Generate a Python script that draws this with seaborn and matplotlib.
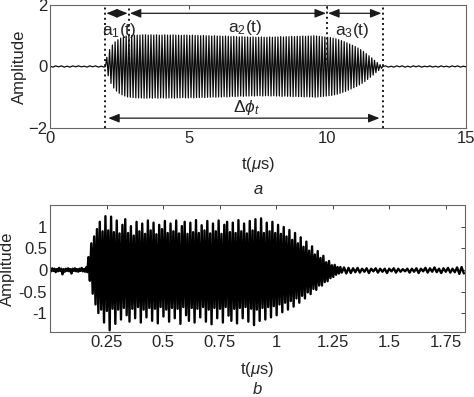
import numpy as np
import pandas as pd
import seaborn as sns
import matplotlib
matplotlib.use("Agg")
import matplotlib.pyplot as plt

# ---- panel a: envelope peaks, one per carrier cycle (2 .. 12 us)
a_peaks = [0.30, 0.55, 0.70, 0.80, 0.87, 0.92, 0.96, 0.99, 1.00, 1.01,
           1.02, 1.02, 1.02, 1.03, 1.03, 1.02, 1.03, 1.02, 1.03, 1.02,
           1.02, 1.03, 1.02, 1.02, 1.03, 1.02, 1.02, 1.01, 1.02, 1.02,
           1.01, 1.02, 1.01, 1.01, 1.00, 1.01, 1.00, 1.00, 0.99, 1.00,
           0.99, 0.99, 0.98, 0.99, 0.98, 0.97, 0.98, 0.97, 0.96, 0.97,
           0.96, 0.96, 0.95, 0.96, 0.95, 0.95, 0.96, 0.95, 0.95, 0.96,
           0.95, 0.96, 0.96, 0.97, 0.96, 0.97, 0.97, 0.98, 0.97, 0.98,
           0.98, 0.99, 0.98, 0.99, 0.99, 1.00, 0.99, 0.98, 0.97, 0.96,
           0.95, 0.94, 0.92, 0.90, 0.87, 0.84, 0.81, 0.77, 0.73, 0.69,
           0.65, 0.60, 0.55, 0.49, 0.42, 0.35, 0.28, 0.20, 0.13, 0.06]
a_pre = [0.01, -0.02, 0.02, -0.01, 0.02, -0.02, 0.01, -0.02, 0.02, -0.01,
         0.02, -0.01, 0.01, -0.02, 0.02, -0.01, 0.02, -0.02, 0.01, -0.02]
a_post = [0.02, -0.02, 0.01, -0.02, 0.02, -0.01, 0.02, -0.02, 0.01, -0.02,
          0.02, -0.01, 0.02, -0.02, 0.01, -0.01, 0.02, -0.02, 0.01, -0.02,
          0.02, -0.01, 0.01, -0.02, 0.02, -0.01, 0.02, -0.02, 0.01, -0.01]
a_burst = (2.0, 12.0)

# ---- panel b: upper / lower peak magnitudes per cycle (0.17 .. 1.29 us)
b_up = [0.30, 0.62, 0.78, 0.95, 1.12, 0.90, 1.25, 0.92, 1.24, 0.88,
        1.15, 0.85, 1.05, 1.18, 0.86, 1.02, 0.80, 1.12, 0.90, 1.08,
        0.84, 1.15, 0.92, 1.10, 0.83, 1.05, 0.95, 1.14, 0.86, 1.08,
        0.90, 1.15, 0.85, 1.02, 1.12, 0.84, 1.10, 0.88, 1.16, 0.86,
        1.04, 0.92, 1.14, 0.85, 1.08, 0.90, 1.15, 0.84, 1.05, 1.12,
        0.88, 1.10, 0.86, 1.16, 0.90, 1.08, 0.85, 1.14, 0.92, 1.18,
        0.88, 1.20, 0.86, 1.10, 0.90, 1.12, 0.86, 1.05, 0.84, 1.00,
        0.78, 0.93, 0.70, 0.86, 0.62, 0.76, 0.54, 0.66, 0.45, 0.55,
        0.36, 0.44, 0.28, 0.33, 0.18, 0.21, 0.11, 0.12, 0.07, 0.07]
b_down = [0.25, 0.55, 0.80, 1.00, 0.92, 1.22, 0.95, 1.40, 0.90, 1.25,
          0.92, 1.15, 0.88, 1.05, 1.20, 0.90, 1.12, 0.86, 1.22, 0.92,
          1.10, 0.88, 1.18, 0.90, 1.24, 0.86, 1.08, 0.92, 1.20, 0.88,
          1.12, 0.90, 1.25, 0.86, 1.05, 1.18, 0.88, 1.22, 0.90, 1.10,
          0.86, 1.20, 0.92, 1.26, 0.88, 1.12, 0.90, 1.22, 0.86, 1.06,
          1.18, 0.90, 1.24, 0.88, 1.12, 0.86, 1.20, 0.90, 1.28, 0.92,
          1.18, 0.88, 1.15, 0.86, 1.10, 0.84, 1.05, 0.80, 0.98, 0.76,
          0.92, 0.72, 0.85, 0.66, 0.76, 0.60, 0.66, 0.52, 0.56, 0.44,
          0.46, 0.36, 0.36, 0.28, 0.26, 0.19, 0.16, 0.11, 0.08, 0.06]
b_pre = [0.02, -0.03, 0.04, -0.02, 0.03, -0.05, 0.02, -0.03, 0.05, -0.02,
         0.03, -0.10, 0.02, -0.04, 0.03, -0.02, 0.04, -0.03, 0.02, -0.08,
         0.03, -0.02, 0.04, -0.03, 0.02, -0.04, 0.03, -0.02, 0.05, -0.03,
         0.02, -0.04, 0.06, -0.05]
b_post = [0.06, -0.08, 0.05, -0.07, 0.04, -0.05, 0.05, -0.06, 0.03, -0.04,
          0.04, -0.07, 0.03, -0.03, 0.04, -0.06, 0.03, -0.04, 0.03, -0.07,
          0.03, -0.03, 0.04, -0.06, 0.03, -0.04, 0.02, -0.03, 0.03, -0.06,
          0.03, -0.04, 0.04, -0.07, 0.03, -0.03, 0.05, -0.06, 0.04, -0.04,
          0.06, -0.05, 0.03, -0.07, 0.04, -0.04, 0.05, -0.06, 0.03, -0.05,
          0.06, -0.09, 0.07, -0.08]
b_burst = (0.17, 1.29)

# annotation positions in panel a (us)
t_marks = [2.0, 2.85, 10.0, 12.0]
seg_labels = ['a$_1$(t)', 'a$_2$(t)', 'a$_3$(t)']
seg_label_x = [2.5, 7.05, 10.9]
seg_label_y = [1.17, 1.28, 1.17]

# ---- build tables
up = np.array(a_peaks)
zig = np.column_stack((up, -up)).ravel()
a_y = np.concatenate([a_pre, [0.0], zig, [0.0], a_post])
a_t = np.concatenate([np.linspace(0, 1.95, len(a_pre)),
                      np.linspace(a_burst[0], a_burst[1], len(zig) + 2),
                      np.linspace(12.1, 15, len(a_post))])
df_a = pd.DataFrame({'t': a_t, 'amp': a_y})

zig_b = np.column_stack((b_up, -np.array(b_down))).ravel()
b_y = np.concatenate([b_pre, zig_b, b_post])
b_t = np.concatenate([np.linspace(0.0, 0.165, len(b_pre)),
                      np.linspace(b_burst[0], b_burst[1], len(zig_b)),
                      np.linspace(1.30, 1.83, len(b_post))])
df_b = pd.DataFrame({'t': b_t, 'amp': b_y})

sns.set_theme(style='white')
plt.rcParams['font.family'] = ['Liberation Sans', 'DejaVu Sans']
plt.rcParams['mathtext.fontset'] = 'custom'
plt.rcParams['mathtext.rm'] = 'Liberation Sans'
plt.rcParams['mathtext.it'] = 'Liberation Sans:italic'

fs = 12
fig = plt.figure(figsize=(4.74, 3.97), dpi=100)
ax1 = fig.add_axes([0.1055, 0.6776, 0.8776, 0.3098])
ax2 = fig.add_axes([0.1055, 0.1637, 0.8755, 0.3199])

sns.lineplot(data=df_a, x='t', y='amp', ax=ax1, color='#0d0d0d', lw=0.9,
             estimator=None, sort=False)
sns.lineplot(data=df_b, x='t', y='amp', ax=ax2, color='black', lw=1.7,
             estimator=None, sort=False)

ax1.set_xlim(0, 15)
ax1.set_ylim(-2, 2)
ax1.set_xticks([0, 5, 10, 15])
ax1.set_yticks([-2, 0, 2])
ax2.set_xlim(0, 1.835)
ax2.set_ylim(-1.44, 1.51)
ax2.set_xticks([0.25, 0.5, 0.75, 1, 1.25, 1.5, 1.75])
ax2.set_xticklabels(['0.25', '0.5', '0.75', '1', '1.25', '1.5', '1.75'])
ax2.set_yticks([-1, -0.5, 0, 0.5, 1])
ax2.set_yticklabels(['-1', '-0.5', '0', '0.5', '1'])

for ax in (ax1, ax2):
    ax.tick_params(direction='in', length=3, width=0.6, top=True, right=True,
                   labelsize=fs, colors='#262626', pad=2)
    for s in ax.spines.values():
        s.set_color('#666666')
        s.set_linewidth(0.8)
    ax.set_xlabel('t($\\mu$s)', fontsize=fs, color='#262626')
    ax.set_ylabel('Amplitude', fontsize=fs, color='#262626')
ax1.xaxis.set_label_coords(0.5, -0.22)
ax1.yaxis.set_label_coords(-0.055, 0.5)
ax2.xaxis.set_label_coords(0.5, -0.22)
ax2.yaxis.set_label_coords(-0.085, 0.5)

# dotted markers
ax1.plot([t_marks[0]] * 2, [-2, 2], ls=':', color='k', lw=1.4)
ax1.plot([t_marks[3]] * 2, [-2, 2], ls=':', color='k', lw=1.4)
ax1.plot([t_marks[1]] * 2, [0.15, 2], ls=':', color='k', lw=1.4)
ax1.plot([t_marks[2]] * 2, [0.2, 2], ls=':', color='k', lw=1.4)

arrow = dict(arrowstyle='<|-|>,head_length=0.55,head_width=0.22', color='k',
             lw=0.9, shrinkA=0, shrinkB=0)
for i in range(3):
    ax1.annotate('', xy=(t_marks[i + 1] - 0.05, 1.73), xytext=(t_marks[i] + 0.03, 1.73),
                 arrowprops=arrow)
    ax1.text(seg_label_x[i], seg_label_y[i], seg_labels[i], ha='center',
             va='center', fontsize=12.5)
ax1.annotate('', xy=(t_marks[3] - 0.12, -1.68), xytext=(t_marks[0] + 0.1, -1.68),
             arrowprops=arrow)
ax1.text(7.1, -1.33, '$\\Delta\\phi_t$', ha='center', va='center', fontsize=12.5)

fig.text(0.544, 1 - 190 / 397, 'a', style='italic', ha='center', va='center',
         fontsize=fs)
fig.text(0.542, 1 - 389 / 397, 'b', style='italic', ha='center', va='center',
         fontsize=fs)

fig.savefig('out.png', dpi=100)
